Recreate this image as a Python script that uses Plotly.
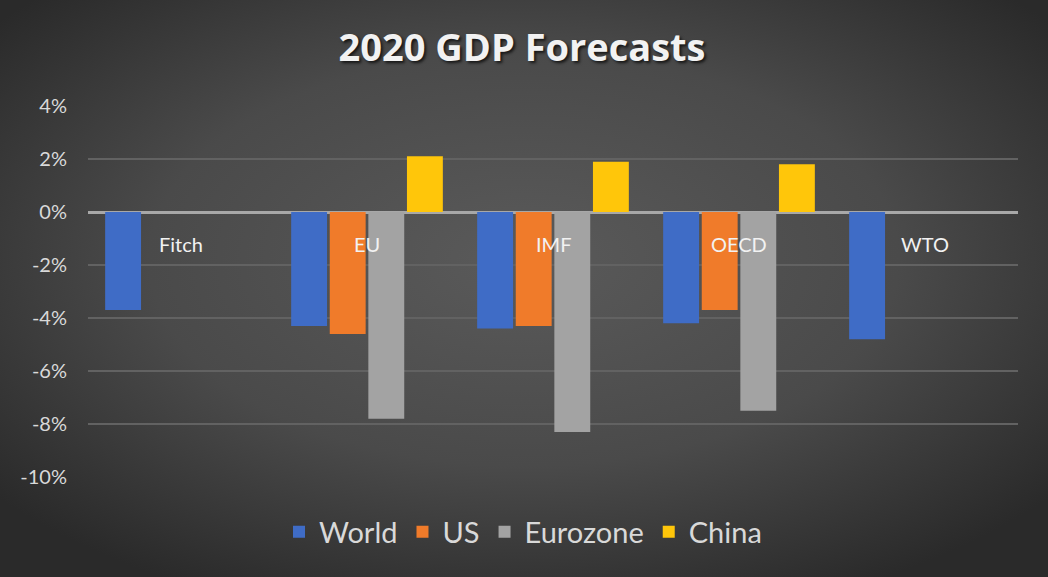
import base64
import plotly.graph_objects as go

categories = ["Fitch", "EU", "IMF", "OECD", "WTO"]
world = [-3.7, -4.3, -4.4, -4.2, -4.8]
us = [None, -4.6, -4.3, -3.7, None]
eurozone = [None, -7.8, -8.3, -7.5, None]
china = [None, 2.1, 1.9, 1.8, None]
tick_vals = [-10, -8, -6, -4, -2, 0, 2, 4]
tick_text = ["-10%", "-8%", "-6%", "-4%", "-2%", "0%", "2%", "4%"]

W, H = 1048, 577
L, R, T, B = 88, 30, 106, 100
PW, PH = W - L - R, H - T - B

series = [
    ("World", world, "#3f6cc6"),
    ("US", us, "#f07b2a"),
    ("Eurozone", eurozone, "#a3a3a3"),
    ("China", china, "#ffc60a"),
]

fig = go.Figure()
for name, vals, col in series:
    fig.add_trace(go.Bar(
        name=name, x=categories, y=vals,
        marker=dict(color=col, line=dict(width=0)),
    ))

svg = f'''<svg xmlns="http://www.w3.org/2000/svg" width="{W}" height="{H}" viewBox="0 0 {W} {H}" preserveAspectRatio="none">
<defs><radialGradient id="g" cx="50%" cy="45%" r="65%">
<stop offset="0%" stop-color="#5a5a5a"/>
<stop offset="55%" stop-color="#4a4a4a"/>
<stop offset="100%" stop-color="#2a2a2a"/>
</radialGradient></defs>
<rect width="{W}" height="{H}" fill="url(#g)"/></svg>'''
src = "data:image/svg+xml;base64," + base64.b64encode(svg.encode()).decode()

fig.add_layout_image(dict(
    source=src, xref="paper", yref="paper",
    x=-L / PW, y=1 + T / PH, sizex=W / PW, sizey=H / PH,
    xanchor="left", yanchor="top", sizing="stretch", layer="below",
))

for c in categories:
    fig.add_annotation(
        x=c, y=0, xref="x", yref="y", text=c, showarrow=False,
        yshift=-32, font=dict(family="Lato, Calibri, sans-serif", size=20, color="#f2f2f2"),
    )

fig.update_layout(
    width=W, height=H,
    margin=dict(l=L, r=R, t=T, b=B),
    paper_bgcolor="#404040",
    plot_bgcolor="rgba(0,0,0,0)",
    barmode="group",
    bargap=0.17,
    bargroupgap=0.07,
    title=dict(
        text="<b>2020 GDP Forecasts</b>",
        x=(522 - L) / PW, xanchor="center", xref="paper",
        y=1 - 48 / H, yanchor="middle",
        font=dict(family="'Open Sans', 'Noto Sans', sans-serif", size=38, color="#f2f2f2",
                  shadow="2px 2px 3px rgba(0,0,0,0.7)"),
    ),
    xaxis=dict(showticklabels=False, showgrid=False, zeroline=False, showline=False,
               ticks=""),
    yaxis=dict(
        range=[-10, 4], tickvals=tick_vals, ticktext=tick_text,
        showgrid=True, gridcolor="#626262", gridwidth=1.5,
        zeroline=True, zerolinecolor="#a8a8a8", zerolinewidth=2.5,
        showline=False, ticks="",
        tickfont=dict(family="Lato, Calibri, sans-serif", size=20, color="#d9d9d9"),
        ticklabelstandoff=20,
    ),
    legend=dict(
        orientation="h", x=(523 - L) / PW, xanchor="center", y=-55 / PH, yanchor="middle",
        font=dict(family="Lato, Calibri, sans-serif", size=29, color="#d9d9d9"),
        bgcolor="rgba(0,0,0,0)", itemwidth=30,
    ),
    showlegend=True,
)

fig.write_html("out.html")
